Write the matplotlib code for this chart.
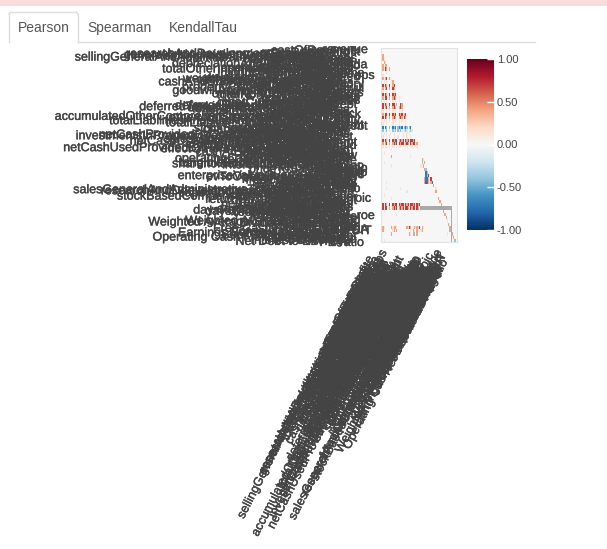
import numpy as np
import matplotlib
matplotlib.use('Agg')
import matplotlib.pyplot as plt
import matplotlib.patheffects as pe
from matplotlib.colors import ListedColormap
from matplotlib.lines import Line2D
from matplotlib.patches import Rectangle

plt.rcParams['font.family'] = ['Liberation Sans', 'DejaVu Sans']
plt.rcParams['axes.unicode_minus'] = False

# variable names, in the order of the matrix
income_cols = [
    'revenue', 'costOfRevenue', 'grossProfit', 'grossProfitRatio',
    'researchAndDevelopmentExpenses', 'generalAndAdministrativeExpenses',
    'sellingAndMarketingExpenses', 'sellingGeneralAndAdministrativeExpenses',
    'otherExpenses', 'operatingExpenses', 'costAndExpenses', 'interestIncome',
    'interestExpense', 'depreciationAndAmortization', 'ebitda', 'ebitdaratio',
    'operatingIncome', 'operatingIncomeRatio', 'totalOtherIncomeExpensesNet',
    'incomeBeforeTax', 'incomeBeforeTaxRatio', 'incomeTaxExpense', 'netIncome',
    'netIncomeRatio', 'eps', 'epsdiluted', 'weightedAverageShsOut',
    'weightedAverageShsOutDil']
balance_cols = [
    'cashAndCashEquivalents', 'shortTermInvestments', 'cashAndShortTermInvestments',
    'netReceivables', 'inventory', 'otherCurrentAssets', 'totalCurrentAssets',
    'propertyPlantEquipmentNet', 'goodwill', 'intangibleAssets',
    'goodwillAndIntangibleAssets', 'longTermInvestments', 'taxAssets',
    'otherNonCurrentAssets', 'totalNonCurrentAssets', 'otherAssets', 'totalAssets',
    'accountPayables', 'shortTermDebt', 'taxPayables', 'deferredRevenue',
    'otherCurrentLiabilities', 'totalCurrentLiabilities', 'longTermDebt',
    'deferredRevenueNonCurrent', 'deferredTaxLiabilitiesNonCurrent',
    'otherNonCurrentLiabilities', 'totalNonCurrentLiabilities', 'otherLiabilities',
    'capitalLeaseObligations', 'totalLiabilities', 'preferredStock', 'commonStock',
    'retainedEarnings', 'accumulatedOtherComprehensiveIncomeLoss',
    'othertotalStockholdersEquity', 'totalStockholdersEquity', 'totalEquity',
    'totalLiabilitiesAndStockholdersEquity', 'minorityInterest',
    'totalLiabilitiesAndTotalEquity', 'totalInvestments', 'totalDebt', 'netDebt']
cashflow_cols = [
    'deferredIncomeTax', 'stockBasedCompensation', 'changeInWorkingCapital',
    'accountsReceivables', 'accountsPayables', 'otherWorkingCapital',
    'otherNonCashItems', 'netCashProvidedByOperatingActivities',
    'investmentsInPropertyPlantAndEquipment', 'acquisitionsNet',
    'purchasesOfInvestments', 'salesMaturitiesOfInvestments',
    'otherInvestingActivites', 'netCashUsedForInvestingActivites', 'debtRepayment',
    'commonStockIssued', 'commonStockRepurchased', 'dividendsPaid',
    'otherFinancingActivites', 'netCashUsedProvidedByFinancingActivities',
    'effectOfForexChangesOnCash', 'netChangeInCash', 'cashAtEndOfPeriod',
    'cashAtBeginningOfPeriod', 'operatingCashFlow', 'capitalExpenditure',
    'freeCashFlow']
metric_cols = [
    'revenuePerShare', 'netIncomePerShare', 'operatingCashFlowPerShare',
    'freeCashFlowPerShare', 'cashPerShare', 'bookValuePerShare',
    'tangibleBookValuePerShare', 'shareholdersEquityPerShare',
    'interestDebtPerShare', 'marketCap', 'enterpriseValue', 'peRatio',
    'priceToSalesRatio', 'pocfratio', 'pfcfRatio', 'pbRatio', 'ptbRatio',
    'evToSales', 'enterpriseValueOverEBITDA', 'evToOperatingCashFlow',
    'evToFreeCashFlow', 'earningsYield', 'freeCashFlowYield', 'debtToEquity',
    'debtToAssets', 'netDebtToEBITDA', 'currentRatio', 'interestCoverage',
    'incomeQuality', 'dividendYield', 'payoutRatio',
    'salesGeneralAndAdministrativeToRevenue', 'researchAndDdevelopementToRevenue',
    'intangiblesToTotalAssets', 'capexToOperatingCashFlow', 'capexToRevenue',
    'capexToDepreciation', 'stockBasedCompensationToRevenue', 'grahamNumber',
    'roic', 'returnOnTangibleAssets', 'grahamNetNet', 'workingCapital',
    'tangibleAssetValue', 'netCurrentAssetValue', 'investedCapital',
    'averageReceivables', 'averagePayables', 'averageInventory',
    'daysSalesOutstanding', 'daysPayablesOutstanding', 'daysOfInventoryOnHand',
    'receivablesTurnover', 'payablesTurnover', 'inventoryTurnover', 'roe',
    'capexPerShare']
legacy_cols = [
    'Revenue Growth', 'SG&A Expense', 'EPS Diluted', 'Weighted Average Shs Out',
    'Weighted Average Shs Out (Dil)', 'Dividend per Share', 'Gross Margin',
    'EBITDA Margin', 'EBIT Margin', 'Profit Margin', 'Free Cash Flow margin',
    'EBITDA', 'EBIT', 'Consolidated Income', 'Earnings Before Tax Margin',
    'Net Profit Margin', 'Book Value per Share', 'Graham Number',
    'Operating Cash Flow per Share', 'Debt to Equity', 'Current ratio',
    'Interest Coverage', 'Net Debt to EBITDA', 'PE ratio']
labels = income_cols + balance_cols + cashflow_cols + metric_cols + legacy_cols

tabs = ['Pearson', 'Spearman', 'KendallTau']
cbar_ticks = [-1.0, -0.5, 0.0, 0.5, 1.0]

# correlation values, 3 variables per cell (finer than the
# picture can show); one string per row of the lower triangle.
# '.' 0  ',' +0.15  ';' -0.15  'r' +0.4  'b' -0.4  'R' +0.7  'B' -0.7
# 'x' missing coefficient (grey), ' ' masked
level = {'.': 0.0, ',': 0.15, ';': -0.15, 'r': 0.4, 'b': -0.4, 'R': 0.7, 'B': -0.7}
corr_rows = [
    '',
    ',',
    '.r',
    'rr,',
    'R.r,',
    'rr.rr',
    'Rr.Rr.r',
    ',...,',
    '.,',
    'Rr.rR.r,.',
    ',.,.,...,r',
    'rR.Rr.R..rR',
    'Rr.rR.r..Rr.',
    '.,..,....,.,.',
    'RR.Rr.R..RrR..',
    'Rr.RR.r..rRr..,',
    ',.,.,....,.,..,.',
    'rR.Rr.R..RR.r..Rr',
    'RR.rR.r..rRr..rRr.',
    '.,..,.,..,.,..,.,..',
    'Rr.RR.R..RrR..RrR.rR',
    'rR.Rr.r..rRr..rRr.Rr.',
    ',.,.,.,..,.,..,.,..,..',
    '.,..,....,....,....,...',
    'bB.Bb.b..BbB.bBbB.bBb.bB',
    ';b.;b.;..b;b.b;b;.;b;.;b;',
    ',.,.,..,..,...,..,..,.,...',
    '.,..,.,...,..,...,..,..,...',
    'RR.Rr.R..RbRR.rRbR.RrR.RRbR.',
    'Rr.rR.r..rRbR.RrRR.rRb.RrRR.r',
    ',,.,,.,..,,.,.,,.,.,,..,,.,.,',
    '........,',
    '..,',
    '........r..............;',
    '.' * 32 + 'r,',
    '..,' + '.' * 29 + 'b.r',
    '........,' + '.' * 22 + ',.r.',
    '.' * 34 + 'rb',
    '.' * 35 + 'Bb',
    '.' * 35 + 'BbR',
    '.' * 34 + 'rBBr.R',
    '....,' + '.' * 29 + 'bRBr.rB',
    '.' * 41 + 'r',
    '....,' + '.' * 10 + ',' + '.' * 27 + ',',
    '.' * 20 + ';' + '.' * 22 + 'r',
    '..,',
    ',' + '.' * 7 + ',' + '.' * 36 + 'r',
    '.' * 46 + 'r',
    'RR.Rr.R..RrRR.RrRR.RrR.RRrR.RrR' + '.' * 16 + 'r',
    'rR.RR.r..rRrR.rRrR.RRr.RrRR.Rr.' + 'x' * 25,
    '..,' + '.' * 46 + 'r' + ' ' * 5 + 'x',
    '.' * 12 + ',' + '.' * 37 + 'r' + ' ' * 4 + 'x',
    '.' * 51 + 'r' + ' ' * 3 + 'x',
    ',' + '.' * 51 + ';' + ' ' * 2 + 'x',
    '.' * 53 + 'r' + ' ' + 'x',
    'rr,' + '.' * 5 + 'r,rr,' + '.' * 7 + 'r,Rr.,r;r,R.r,' + '.' * 20 + 'rx',
    ',r' + '.' * 7 + ',r.r' + '.' * 10 + ',.r;.r,.,r' + '.' * 21 + 'bx',
    '.' * 8 + 'r' + '.' * 13 + 'r,.rb.r' + '.' * 23 + ',..xr',
    '.' * 55 + 'x.r',
    '..,' + '.' * 52 + 'x..b',
]

n = len(corr_rows)
vals = np.full((n, n), np.nan)
miss = np.full((n, n), np.nan)
for i, row in enumerate(corr_rows):
    row = row.ljust(i + 1, '.')
    for j, ch in enumerate(row):
        if ch == 'x':
            miss[i, j] = 1.0
        elif ch != ' ':
            vals[i, j] = level[ch]

W, H = 607, 549
fig = plt.figure(figsize=(W / 100, H / 100), dpi=100)


def px_box(x0, y0, x1, y1):
    return [x0 / W, 1 - y1 / H, (x1 - x0) / W, (y1 - y0) / H]


# page decoration: alert strip and the tab bar
fig.add_artist(Rectangle((0, 1 - 6 / H), 1, 6 / H, transform=fig.transFigure,
                         facecolor='#fbdcdc', lw=0))
tab_line = [((9, 42), (9, 14)), ((9, 14), (11, 12)), ((11, 12), (76, 12)),
            ((76, 12), (78, 14)), ((78, 14), (78, 42)), ((78, 42), (535, 42))]
for (xa, ya), (xb, yb) in tab_line:
    fig.add_artist(Line2D([xa / W, xb / W], [1 - ya / H, 1 - yb / H],
                          transform=fig.transFigure, color='#dddddd', lw=1))
for name, xc in zip(tabs, [44, 119, 203]):
    fig.text(xc / W, 1 - 28 / H, name, ha='center', va='center', fontsize=10,
             color='#555555')

ax = fig.add_axes(px_box(381, 48, 457, 242))
cax = fig.add_axes(px_box(467, 59, 494, 230))

cmap = plt.get_cmap('RdBu_r').copy()
cmap.set_bad('#f7f7f7')
nv = len(labels)
ext = (-0.5, nv - 0.5, nv - 0.5, -0.5)
im = ax.imshow(vals, cmap=cmap, vmin=-1, vmax=1, extent=ext, aspect='auto',
               interpolation='nearest')
ax.imshow(miss, cmap=ListedColormap(['#a9a9a9']), vmin=0, vmax=1, extent=ext,
          aspect='auto', interpolation='nearest')

# the source svg laid its labels out wider than it drew them, so each label
# keeps a blank tail half as long as itself
shown = [lab + ' ' * (len(lab) // 2) for lab in labels]
ax.set_xticks(np.arange(nv))
ax.set_xticklabels(shown, rotation=63, ha='right')
ax.set_yticks(np.arange(nv))
ax.set_yticklabels(shown)
ax.tick_params(length=0, labelsize=9, labelcolor='#444444', pad=2)
heavy = [pe.withStroke(linewidth=0.3, foreground='#444444')]
for t in ax.get_xticklabels() + ax.get_yticklabels():
    t.set_path_effects(heavy)
for sp in ax.spines.values():
    sp.set_color('#e3e3e3')
    sp.set_linewidth(0.8)

cb = fig.colorbar(im, cax=cax, ticks=cbar_ticks, format='%.2f')
cb.outline.set_visible(False)
cax.tick_params(direction='in', color='white', length=5, width=1, labelsize=8,
                labelcolor='#444444', pad=2)

fig.savefig('out.png', dpi=100)
